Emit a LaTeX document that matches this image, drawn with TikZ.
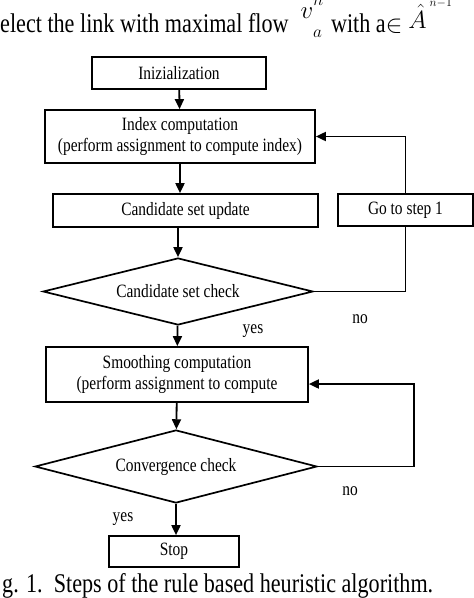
\documentclass[tikz,border=0pt]{standalone}
\usepackage{amsmath, amssymb}
\usepackage{fontspec}
\setmainfont{Liberation Serif}[FakeStretch=0.82]
\usepackage{tikz}
\usetikzlibrary{shapes.geometric,arrows.meta}

\begin{document}
\begin{tikzpicture}[x=1pt,y=-1pt,
	box/.style={draw, line width=1.7pt, inner sep=0pt, align=center, font=\fontsize{18.8}{20.5}\selectfont},
	choice/.style={draw, diamond, aspect=4, line width=1.7pt, inner sep=0pt, font=\fontsize{18.8}{20.5}\selectfont},
	arr/.style={line width=1.8pt, -{Triangle[length=10pt,width=9pt]}},
	link/.style={line width=1.8pt},
	lbl/.style={inner sep=0pt, font=\fontsize{18.8}{20.5}\selectfont}]
				\useasboundingbox (0,0) rectangle (474,598);

				\node[anchor=base west, inner sep=0pt, font=\fontsize{27}{30}\selectfont] (title) at (0,32) {elect the link with maximal flow\hspace{12pt}\raisebox{14pt}{$v$}\rlap{\raisebox{27pt}{$\scriptstyle n$}}\raisebox{-5pt}{$\scriptstyle a$}\hspace{9pt}with a$\in$\hspace{6pt}\raisebox{4pt}{$\hat{A}$}\hspace{3pt}\raisebox{26pt}{\fontsize{13}{13}\selectfont$n{-}1$}};

				\node[box, minimum width=174pt, minimum height=32pt] (init) at (179,73) {Inizialization};
				\node[box, minimum width=270pt, minimum height=53pt] (index) at (180,136.5) {Index computation\\(perform assignment to compute index)};
				\node[box, minimum width=265pt, minimum height=33pt] (update) at (185.5,210.5) {Candidate set update};
				\node[box, minimum width=135pt, minimum height=32pt] (goto) at (405.5,210) {Go to step 1};
				\node[choice, minimum width=270pt, minimum height=67pt] (check) at (178,291.5) {Candidate set check};
				\node[box, minimum width=262pt, minimum height=55pt] (smooth) at (177,374.5) {Smoothing computation\\(perform assignment to compute};
				\node[choice, minimum width=282pt, minimum height=73pt] (conv) at (176,466.5) {Convergence check};
				\node[box, minimum width=130pt, minimum height=31pt] (stop) at (174,551.5) {Stop};

				\draw[arr] (init) -- (index);
				\draw[arr] (index) -- (index |- update.north);
				\draw[arr] (update.south -| check.north) -- (check.north);
				\draw[arr] (check) -- (smooth);
				\draw[arr] (smooth) -- (conv);
				\draw[arr] (conv.south) -- (conv.south |- stop.north);

				\draw[link] (check.east) -| (goto.south);
				\draw[arr] (goto.north) |- (index.east);
				\coordinate (back) at (414,384);
				\draw[arr] (conv.east) -| (back) -- (back -| smooth.east);

				\node[lbl] (no1) at (360,319) {no};
				\node[lbl] (yes1) at (253,331) {yes};
				\node[lbl] (no2) at (350,491) {no};
				\node[lbl] (yes2) at (123,519) {yes};

				\node[anchor=base west, inner sep=0pt, font=\fontsize{27}{30}\selectfont] (caption) at (2,592) {g. 1.\ \ Steps of the rule based heuristic algorithm.};
			\end{tikzpicture}
\end{document}
